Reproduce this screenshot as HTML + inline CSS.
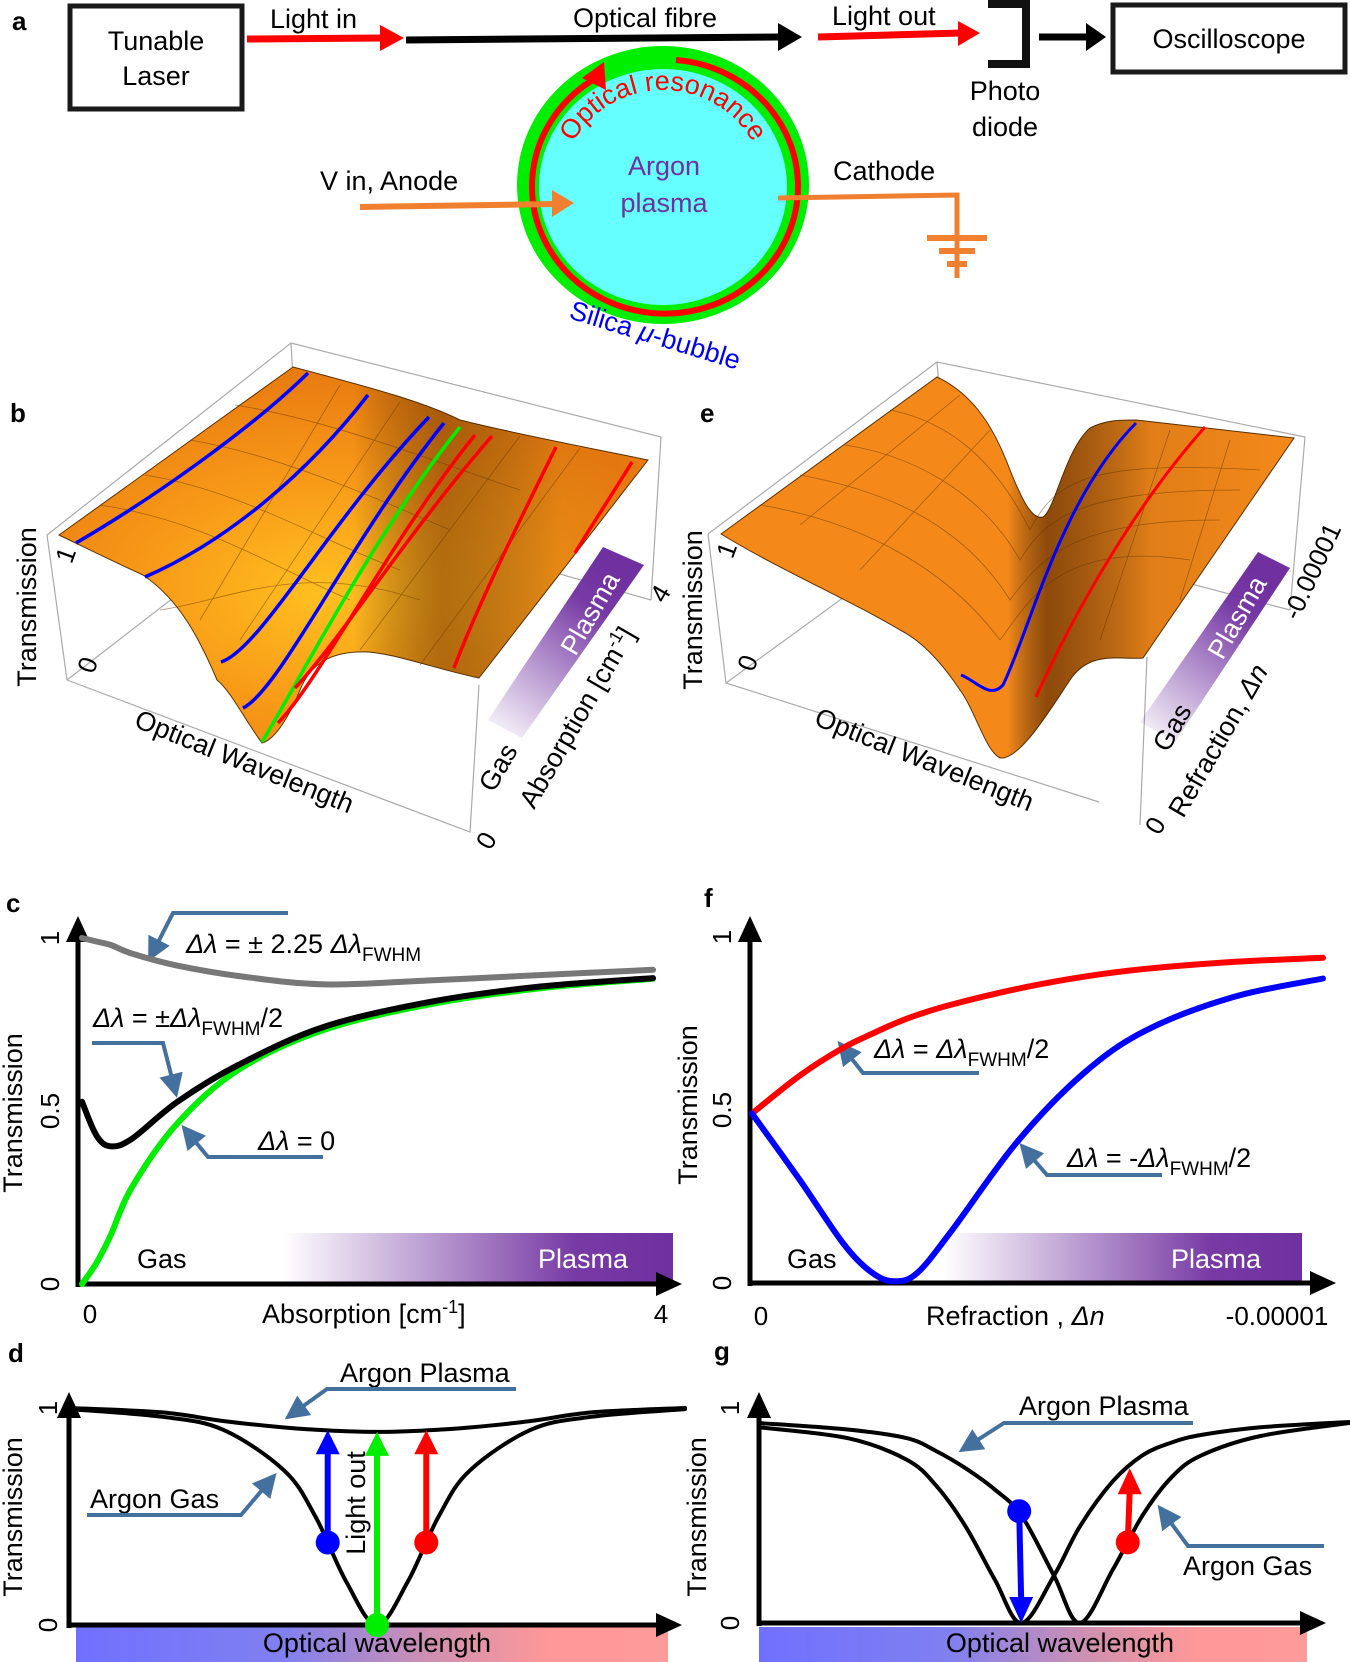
<!DOCTYPE html>
<html><head><meta charset="utf-8">
<style>
html,body{margin:0;padding:0;background:#fff;}
svg{display:block;font-family:"Liberation Sans",Arial,sans-serif;}
</style></head>
<body>
<svg id="fig" width="1350" height="1662" viewBox="0 0 1350 1662" xmlns="http://www.w3.org/2000/svg">
<defs>
  <linearGradient id="purpH" x1="0" x2="1" y1="0" y2="0">
    <stop offset="0" stop-color="#7030a0" stop-opacity="0"/>
    <stop offset="0.75" stop-color="#7030a0" stop-opacity="0.95"/>
    <stop offset="1" stop-color="#7030a0"/>
  </linearGradient>
  <linearGradient id="purpD" x1="0" y1="1" x2="0.6" y2="0">
    <stop offset="0" stop-color="#7030a0" stop-opacity="0"/>
    <stop offset="0.8" stop-color="#7030a0" stop-opacity="0.95"/>
    <stop offset="1" stop-color="#7030a0"/>
  </linearGradient>
  <linearGradient id="wl" x1="0" x2="1" y1="0" y2="0">
    <stop offset="0" stop-color="#7070ff"/>
    <stop offset="0.35" stop-color="#8080f0"/>
    <stop offset="0.6" stop-color="#d090b0"/>
    <stop offset="0.8" stop-color="#ff9898"/>
    <stop offset="1" stop-color="#ff9a9a"/>
  </linearGradient>
  <radialGradient id="orB" cx="0.45" cy="0.6" r="0.6">
    <stop offset="0" stop-color="#ffc020"/>
    <stop offset="0.5" stop-color="#f89a18"/>
    <stop offset="1" stop-color="#e87a10"/>
  </radialGradient>
  <linearGradient id="shadeB" x1="0" x2="1" y1="0" y2="0">
    <stop offset="0" stop-color="#000" stop-opacity="0"/>
    <stop offset="0.5" stop-color="#000" stop-opacity="0"/>
    <stop offset="0.65" stop-color="#5a2800" stop-opacity="0.45"/>
    <stop offset="0.85" stop-color="#000" stop-opacity="0.05"/>
    <stop offset="1" stop-color="#000" stop-opacity="0"/>
  </linearGradient>
  <linearGradient id="shadeE" x1="0" x2="1" y1="0" y2="0">
    <stop offset="0" stop-color="#000" stop-opacity="0"/>
    <stop offset="0.5" stop-color="#000" stop-opacity="0"/>
    <stop offset="0.57" stop-color="#4a2000" stop-opacity="0.6"/>
    <stop offset="0.75" stop-color="#000" stop-opacity="0.08"/>
    <stop offset="1" stop-color="#000" stop-opacity="0"/>
  </linearGradient>
  <marker id="ahBlue" markerWidth="6" markerHeight="6" refX="5" refY="3" orient="auto" markerUnits="strokeWidth"><path d="M0,0 L6,3 L0,6 z" fill="#44709e"/></marker>
</defs>

<!-- ================= PANEL A ================= -->
<g>
  <text x="12" y="30" font-size="26" font-weight="bold">a</text>
  <rect x="70" y="6" width="172" height="103" fill="#fff" stroke="#1a1a1a" stroke-width="5"/>
  <text x="156" y="50" font-size="27" text-anchor="middle">Tunable</text>
  <text x="156" y="85" font-size="27" text-anchor="middle">Laser</text>

  <text x="270" y="28" font-size="27">Light in</text>
  <line x1="247" y1="39" x2="385" y2="38" stroke="#ff0000" stroke-width="7"/>
  <polygon points="380,25 404,38 380,51" fill="#ff0000"/>

  <text x="645" y="27" font-size="27" text-anchor="middle">Optical fibre</text>
  <line x1="406" y1="40" x2="780" y2="37" stroke="#000" stroke-width="7"/>
  <polygon points="778,23 802,37 778,51" fill="#000"/>

  <text x="832" y="25" font-size="27">Light out</text>
  <line x1="818" y1="37" x2="962" y2="33" stroke="#ff0000" stroke-width="7"/>
  <polygon points="958,21 980,33 958,46" fill="#ff0000"/>

  <path d="M988,4 L1026,4 L1026,64 L988,64" fill="none" stroke="#111" stroke-width="8"/>
  <text x="1005" y="100" font-size="27" text-anchor="middle">Photo</text>
  <text x="1005" y="136" font-size="27" text-anchor="middle">diode</text>

  <line x1="1039" y1="37" x2="1088" y2="37" stroke="#000" stroke-width="7"/>
  <polygon points="1086,23 1106,37 1086,51" fill="#000"/>
  <rect x="1113" y="5" width="232" height="67" fill="#fff" stroke="#1a1a1a" stroke-width="5"/>
  <text x="1229" y="48" font-size="27" text-anchor="middle">Oscilloscope</text>

  <ellipse cx="663" cy="185" rx="146" ry="139" fill="#00ee00"/>
  <ellipse cx="663" cy="187" rx="124" ry="118" fill="#66ffff"/>
  <path d="M676,60 A133,127 0 1,1 596,78" fill="none" stroke="#ff0000" stroke-width="6"/>
  <polygon points="582,78 604,62 606,90" fill="#ff0000"/>
  <path id="resArc" d="M561,190 A102,100 0 0,1 765,190" fill="none"/>
  <text font-size="27" fill="#ff0000" text-anchor="middle"><textPath href="#resArc" startOffset="50%">Optical resonance</textPath></text>
  <text x="664" y="175" font-size="27" fill="#7030a0" text-anchor="middle">Argon</text>
  <text x="664" y="212" font-size="27" fill="#7030a0" text-anchor="middle">plasma</text>
  <text x="0" y="0" font-size="27" fill="#0000ee" transform="translate(568,318) rotate(17)"><tspan>Silica </tspan><tspan font-style="italic">μ</tspan><tspan>-bubble</tspan></text>

  <text x="320" y="190" font-size="27">V in, Anode</text>
  <line x1="360" y1="207" x2="555" y2="204" stroke="#f08030" stroke-width="6"/>
  <polygon points="552,190 574,203 552,217" fill="#f08030"/>
  <text x="833" y="180" font-size="27">Cathode</text>
  <path d="M778,198 L957,195 L957,278" fill="none" stroke="#f08030" stroke-width="5"/>
  <g stroke="#f08030" stroke-width="6">
    <line x1="927" y1="238" x2="987" y2="238"/>
    <line x1="939" y1="251" x2="975" y2="251"/>
    <line x1="947" y1="264" x2="967" y2="264"/>
  </g>
</g>

<!-- ================= PANEL B ================= -->
<g>
  <text x="10" y="422" font-size="26" font-weight="bold">b</text>
  <g stroke="#aaa" stroke-width="1.2" fill="none">
    <path d="M47,535 L291,343 L661,437 L651,600"/>
    <path d="M47,535 L67,680 L470,832 L479,685"/>
    <path d="M67,680 L300,500 L651,600"/>
    <path d="M291,343 L300,500"/>
  </g>
  <path d="M59,535 L293,367 C360,385 420,400 460,420 C520,435 600,450 648,460 L479,678 C440,670 400,655 369,652 C330,650 310,665 300,690 C290,715 275,740 262,743 C245,720 230,690 217,680 C200,640 180,600 143,575 C110,560 80,545 59,535 Z" fill="url(#orB)" stroke="#5a3000" stroke-width="1"/>
  <path d="M59,535 L293,367 C360,385 420,400 460,420 C520,435 600,450 648,460 L479,678 C440,670 400,655 369,652 C330,650 310,665 300,690 C290,715 275,740 262,743 C245,720 230,690 217,680 C200,640 180,600 143,575 C110,560 80,545 59,535 Z" fill="url(#shadeB)"/>
  <g stroke="#6a3a00" stroke-width="0.8" fill="none" opacity="0.55">
    <path d="M100,505 C200,520 260,560 350,600"/><path d="M145,475 C240,490 320,540 400,570"/>
    <path d="M190,440 C280,455 380,500 450,530"/><path d="M235,405 C330,420 430,460 520,490"/>
    <path d="M160,610 C230,600 300,560 420,600"/><path d="M340,385 L200,620"/><path d="M400,402 L240,640"/>
    <path d="M520,436 L360,650"/><path d="M580,448 L420,665"/>
  </g>
  <g fill="none" stroke-width="3.5">
    <path stroke="#0000ff" d="M76,543 C150,500 250,430 308,373"/>
    <path stroke="#0000ff" d="M145,577 C230,540 310,470 368,395"/>
    <path stroke="#0000ff" d="M221,662 C260,650 330,520 429,417"/>
    <path stroke="#0000ff" d="M243,708 C280,690 350,540 444,423"/>
    <path stroke="#00ee00" d="M262,742 C300,680 370,540 460,427"/>
    <path stroke="#ff0000" d="M278,723 C320,680 390,540 475,435"/>
    <path stroke="#ff0000" d="M295,688 C340,640 410,530 492,436"/>
    <path stroke="#ff0000" d="M454,668 C480,600 520,520 556,447"/>
    <path stroke="#ff0000" d="M575,553 C595,520 615,490 632,462"/>
  </g>
  <polygon points="603,547 644,565 522,738 488,720" fill="url(#purpD)"/>
  <text font-size="27" fill="#fff" transform="translate(598,618) rotate(-60)" text-anchor="middle">Plasma</text>
  <text font-size="27" transform="translate(506,772) rotate(-60)" text-anchor="middle">Gas</text>
  <text font-size="27" transform="translate(585,722) rotate(-60)" text-anchor="middle">Absorption [cm<tspan font-size="18" dy="-10">-1</tspan><tspan dy="10">]</tspan></text>
  <text font-size="26" transform="translate(668,598) rotate(-60)" text-anchor="middle">4</text>
  <text font-size="26" transform="translate(494,845) rotate(-60)" text-anchor="middle">0</text>
  <text font-size="27" transform="translate(36,607) rotate(-90)" text-anchor="middle">Transmission</text>
  <text font-size="26" transform="translate(74,558) rotate(-70)" text-anchor="middle">1</text>
  <text font-size="26" transform="translate(96,668) rotate(-70)" text-anchor="middle">0</text>
  <text font-size="27" transform="translate(241,770) rotate(22)" text-anchor="middle">Optical Wavelength</text>
</g>

<!-- ================= PANEL E ================= -->
<g>
  <text x="700" y="422" font-size="26" font-weight="bold">e</text>
  <g stroke="#aaa" stroke-width="1.2" fill="none">
    <path d="M708,534 L937,362 L1305,437 L1290,610"/>
    <path d="M708,534 L726,683 L1099,802"/>
    <path d="M726,683 L950,520 L1290,610"/>
    <path d="M937,362 L950,520"/>
    <path d="M1147,657 L1140,825"/>
  </g>
  <path d="M721,534 L937,377 C975,395 995,430 1010,470 C1022,500 1032,520 1043,517 C1055,510 1065,450 1090,428 C1105,420 1120,420 1136,420 L1294,438 L1143,658 C1120,660 1090,650 1070,680 C1050,710 1020,760 1000,758 C985,750 975,710 960,690 C940,660 920,640 900,630 C850,600 780,570 721,534 Z" fill="#f4891a" stroke="#5a3000" stroke-width="1"/>
  <path d="M721,534 L937,377 C975,395 995,430 1010,470 C1022,500 1032,520 1043,517 C1055,510 1065,450 1090,428 C1105,420 1120,420 1136,420 L1294,438 L1143,658 C1120,660 1090,650 1070,680 C1050,710 1020,760 1000,758 C985,750 975,710 960,690 C940,660 920,640 900,630 C850,600 780,570 721,534 Z" fill="url(#shadeE)"/>
  <g stroke="#5a3000" stroke-width="0.8" fill="none" opacity="0.5">
    <path d="M760,505 C850,520 940,560 1000,640 C1030,600 1060,540 1190,560"/>
    <path d="M800,475 C880,490 960,520 1010,600 C1040,560 1070,520 1220,520"/>
    <path d="M845,445 C910,455 980,490 1020,560 C1045,520 1075,490 1240,490"/>
    <path d="M890,410 C940,420 990,450 1030,530 C1055,480 1090,460 1260,470"/>
    <path d="M800,525 L960,395"/><path d="M860,570 L990,430"/><path d="M1180,600 L1230,440"/><path d="M1100,640 L1170,430"/>
  </g>
  <path d="M961,675 C975,680 990,700 1003,685 C1030,630 1060,500 1136,423" fill="none" stroke="#0000ff" stroke-width="3"/>
  <path d="M1036,697 C1080,600 1140,500 1205,427" fill="none" stroke="#ff0000" stroke-width="3"/>
  <polygon points="1258,552 1290,568 1175,742 1140,722" fill="url(#purpD)"/>
  <text font-size="27" fill="#fff" transform="translate(1245,622) rotate(-60)" text-anchor="middle">Plasma</text>
  <text font-size="27" transform="translate(1180,732) rotate(-60)" text-anchor="middle">Gas</text>
  <text font-size="27" transform="translate(1226,745) rotate(-60)" text-anchor="middle">Refraction, <tspan font-style="italic">Δn</tspan></text>
  <text font-size="26" transform="translate(1320,575) rotate(-65)" text-anchor="middle">-0.00001</text>
  <text font-size="26" transform="translate(1163,830) rotate(-60)" text-anchor="middle">0</text>
  <text font-size="27" transform="translate(702,610) rotate(-90)" text-anchor="middle">Transmission</text>
  <text font-size="26" transform="translate(735,553) rotate(-70)" text-anchor="middle">1</text>
  <text font-size="26" transform="translate(756,666) rotate(-70)" text-anchor="middle">0</text>
  <text font-size="27" transform="translate(921,768) rotate(22)" text-anchor="middle">Optical Wavelength</text>
</g>

<!-- ================= PANEL C ================= -->
<g id="panelC">
  <text x="6" y="912" font-size="26" font-weight="bold">c</text>
  <rect x="282" y="1233" width="391" height="51" fill="url(#purpH)"/>
  <text x="137" y="1268" font-size="27">Gas</text>
  <text x="538" y="1268" font-size="27" fill="#fff">Plasma</text>
  <text font-size="27" transform="translate(22,1113) rotate(-90)" text-anchor="middle">Transmission</text>
  <text x="262" y="1323" font-size="27">Absorption [cm<tspan font-size="18" dy="-10">-1</tspan><tspan dy="10">]</tspan></text>
  <text x="186" y="953" font-size="27"><tspan font-style="italic">Δλ</tspan> = ± 2.25 <tspan font-style="italic">Δλ</tspan><tspan font-size="19" dy="8">FWHM</tspan></text>
  <text x="93" y="1027" font-size="27"><tspan font-style="italic">Δλ</tspan> = ±<tspan font-style="italic">Δλ</tspan><tspan font-size="19" dy="8">FWHM</tspan><tspan dy="-8">/2</tspan></text>
  <text x="258" y="1150" font-size="27"><tspan font-style="italic">Δλ</tspan> = 0</text>
  <g fill="none" stroke="#44709e" stroke-width="4">
    <polyline points="288,913 173,913 150,958" marker-end="url(#ahBlue)"/>
    <polyline points="92,1043 163,1043 176,1094" marker-end="url(#ahBlue)"/>
    <polyline points="323,1157 208,1157 184,1128" marker-end="url(#ahBlue)"/>
  </g>
</g>

<!-- ================= PANEL F ================= -->
<g id="panelF">
  <text x="704" y="907" font-size="26" font-weight="bold">f</text>
  <rect x="943" y="1233" width="359" height="50" fill="url(#purpH)"/>
  <text x="787" y="1268" font-size="27">Gas</text>
  <text x="1171" y="1268" font-size="27" fill="#fff">Plasma</text>
  <text font-size="27" transform="translate(697,1105) rotate(-90)" text-anchor="middle">Transmission</text>
  <text x="926" y="1325" font-size="27">Refraction , <tspan font-style="italic">Δn</tspan></text>
  <text x="874" y="1058" font-size="27"><tspan font-style="italic">Δλ</tspan> = <tspan font-style="italic">Δλ</tspan><tspan font-size="19" dy="8">FWHM</tspan><tspan dy="-8">/2</tspan></text>
  <text x="1067" y="1167" font-size="27"><tspan font-style="italic">Δλ</tspan> = -<tspan font-style="italic">Δλ</tspan><tspan font-size="19" dy="8">FWHM</tspan><tspan dy="-8">/2</tspan></text>
  <g fill="none" stroke="#44709e" stroke-width="4">
    <polyline points="979,1073 863,1073 840,1044" marker-end="url(#ahBlue)"/>
    <polyline points="1162,1175 1047,1175 1022,1146" marker-end="url(#ahBlue)"/>
  </g>
</g>

<!-- ================= PANEL D ================= -->
<g id="panelD">
  <text x="8" y="1362" font-size="26" font-weight="bold">d</text>
  <rect x="76" y="1627" width="592" height="35" fill="url(#wl)"/>
  <text x="377" y="1652" font-size="27" text-anchor="middle">Optical wavelength</text>
  <text font-size="27" transform="translate(22,1517) rotate(-90)" text-anchor="middle">Transmission</text>
  <text x="340" y="1382" font-size="27">Argon Plasma</text>
  <text x="90" y="1508" font-size="27">Argon Gas</text>
  <g fill="none" stroke="#44709e" stroke-width="4">
    <polyline points="516,1389 327,1389 288,1417" marker-end="url(#ahBlue)"/>
    <polyline points="87,1515 241,1515 274,1476" marker-end="url(#ahBlue)"/>
  </g>
</g>

<!-- ================= PANEL G ================= -->
<g id="panelG">
  <text x="714" y="1360" font-size="26" font-weight="bold">g</text>
  <rect x="759" y="1627" width="548" height="35" fill="url(#wl)"/>
  <text x="1060" y="1652" font-size="27" text-anchor="middle">Optical wavelength</text>
  <text font-size="27" transform="translate(706,1517) rotate(-90)" text-anchor="middle">Transmission</text>
  <text x="1019" y="1415" font-size="27">Argon Plasma</text>
  <text x="1183" y="1575" font-size="27">Argon Gas</text>
  <g fill="none" stroke="#44709e" stroke-width="4">
    <polyline points="1193,1423 1004,1423 962,1450" marker-end="url(#ahBlue)"/>
    <polyline points="1324,1546 1188,1546 1160,1508" marker-end="url(#ahBlue)"/>
  </g>
</g>
</svg>

<script>
// ---------- Panel c data ----------
const absorption = [0, 0.1, 0.2, 0.35, 0.67, 1.1, 1.7, 2.46, 3.22, 4];
const transGray = [1.0, 0.99, 0.98, 0.955, 0.92, 0.89, 0.866, 0.878, 0.893, 0.908];
const transBlack = [0.527, 0.43, 0.398, 0.42, 0.527, 0.634, 0.744, 0.817, 0.86, 0.884];
const transGreen = [0, 0.06, 0.14, 0.28, 0.465, 0.62, 0.735, 0.81, 0.855, 0.882];
const cTicksX = ["0", "4"];
const cTicksY = ["0", "0.5", "1"];
// ---------- Panel f data ----------
const refraction = [0, 0.084, 0.16, 0.21, 0.25, 0.29, 0.35, 0.464, 0.58, 0.69, 0.844, 1];
const transRed = [0.49, 0.6, 0.68, 0.72, 0.75, 0.775, 0.805, 0.85, 0.885, 0.908, 0.928, 0.94];
const transBlue = [0.49, 0.297, 0.114, 0.03, 0.005, 0.03, 0.152, 0.407, 0.605, 0.73, 0.827, 0.88];
const fTicksX = ["0", "-0.00001"];
const fTicksY = ["0", "0.5", "1"];
// ---------- Panel d data ----------
const wlD = [-1, -0.7, -0.5, -0.3, -0.2, -0.1, 0, 0.1, 0.2, 0.3, 0.5, 0.7, 1];
const dGas = [0.995, 0.96, 0.9, 0.71, 0.5, 0.2, 0, 0.2, 0.5, 0.71, 0.9, 0.96, 0.995];
const dPlasma = [1, 0.98, 0.94, 0.91, 0.9, 0.893, 0.89, 0.893, 0.9, 0.91, 0.94, 0.98, 1];
const dProbeWl = [-0.16, 0, 0.16];
const dTicksY = ["0", "1"];
// ---------- Panel g data ----------
const wlG = [-1, -0.7, -0.5, -0.4, -0.3, -0.2, -0.11, 0, 0.088, 0.2, 0.3, 0.4, 0.5, 0.7, 1];
const gLeftDip = [0.91, 0.86, 0.76, 0.64, 0.45, 0.2, 0, 0.22, 0.45, 0.66, 0.78, 0.84, 0.875, 0.91, 0.935];
const gRightDip = [0.93, 0.9, 0.86, 0.8, 0.72, 0.62, 0.5, 0.22, 0, 0.25, 0.5, 0.68, 0.78, 0.87, 0.93];
const gTicksY = ["0", "1"];

const NS = "http://www.w3.org/2000/svg";
function mk(parent, tag, attrs) {
  const e = document.createElementNS(NS, tag);
  for (const k in attrs) e.setAttribute(k, attrs[k]);
  parent.appendChild(e);
  return e;
}
function smooth(pts) {
  let d = "M" + pts[0][0].toFixed(1) + "," + pts[0][1].toFixed(1);
  for (let i = 0; i < pts.length - 1; i++) {
    const p0 = pts[i - 1] || pts[i], p1 = pts[i], p2 = pts[i + 1], p3 = pts[i + 2] || pts[i + 1];
    const c1x = p1[0] + (p2[0] - p0[0]) / 6, c1y = p1[1] + (p2[1] - p0[1]) / 6;
    const c2x = p2[0] - (p3[0] - p1[0]) / 6, c2y = p2[1] - (p3[1] - p1[1]) / 6;
    d += "C" + c1x.toFixed(1) + "," + c1y.toFixed(1) + " " + c2x.toFixed(1) + "," + c2y.toFixed(1) + " " + p2[0].toFixed(1) + "," + p2[1].toFixed(1);
  }
  return d;
}
function linScale(d0, d1, r0, r1) { return v => r0 + (v - d0) / (d1 - d0) * (r1 - r0); }
function axes(g, ox, oy, xEnd, yTop) {
  const ya = mk(g, "line", {x1: ox, y1: oy + 3, x2: ox, y2: yTop + 20, stroke: "#000", "stroke-width": 5});
  
  
  const yh = mk(g, "polygon", {points: `${ox - 12},${yTop + 26} ${ox},${yTop} ${ox + 12},${yTop + 26}`, fill: "#000"});
  
  
  const xa = mk(g, "line", {x1: ox - 2, y1: oy, x2: xEnd - 20, y2: oy, stroke: "#000", "stroke-width": 5});
  
  
  const xh = mk(g, "polygon", {points: `${xEnd - 26},${oy - 12} ${xEnd},${oy} ${xEnd - 26},${oy + 12}`, fill: "#000"});
  
  
}
function yTicks(g, labels, values, yS, tx) {
  labels.forEach((lab, i) => {
    const t = mk(g, "text", {"font-size": 26, "text-anchor": "middle", transform: `translate(${tx},${yS(values[i])}) rotate(-90)`, dy: "0.35em"});
    t.textContent = lab;
    
    
  });
}
function series(g, xs, ys, xS, yS, color, w, name) {
  const p = mk(g, "path", {d: smooth(xs.map((x, i) => [xS(x), yS(ys[i])])), fill: "none", stroke: color, "stroke-width": w, "stroke-linecap": "round"});
  
  
  return p;
}

// ---- Panel C ----
(function () {
  const g = document.getElementById("panelC");
  const xS = linScale(0, 4, 82, 653), yS = linScale(0, 1, 1284, 938);
  axes(g, 78, 1284, 682, 916);
  yTicks(g, cTicksY, [0, 0.5, 1], yS, 50);
  [0, 4].forEach((v, i) => {
    const t = mk(g, "text", {x: xS(v) + 8, y: 1323, "font-size": 26, "text-anchor": "middle"});
    t.textContent = cTicksX[i];
    
    
  });
  series(g, absorption, transGreen, xS, yS, "#00ee00", 6, "series-delta-zero");
  series(g, absorption, transBlack, xS, yS, "#000", 6, "series-half-fwhm");
  series(g, absorption, transGray, xS, yS, "#777", 6, "series-225-fwhm");
})();

// ---- Panel F ----
(function () {
  const g = document.getElementById("panelF");
  const xS = linScale(0, 1, 752, 1323), yS = linScale(0, 1, 1283, 937);
  axes(g, 750, 1283, 1336, 916);
  yTicks(g, fTicksY, [0, 0.5, 1], yS, 722);
  const t0 = mk(g, "text", {x: 761, y: 1325, "font-size": 26, "text-anchor": "middle"});
  t0.textContent = fTicksX[0];
  
  
  const t1 = mk(g, "text", {x: 1277, y: 1325, "font-size": 26, "text-anchor": "middle"});
  t1.textContent = fTicksX[1];
  
  
  series(g, refraction, transRed, xS, yS, "#ff0000", 6, "series-plus-half-fwhm");
  series(g, refraction, transBlue, xS, yS, "#0000ff", 6, "series-minus-half-fwhm");
})();

// ---- Panel D ----
(function () {
  const g = document.getElementById("panelD");
  const xS = linScale(-1, 1, 69, 685), yS = linScale(0, 1, 1625, 1408);
  axes(g, 69, 1625, 682, 1392);
  yTicks(g, dTicksY, [0, 1], yS, 48);
  series(g, wlD, dGas, xS, yS, "#000", 4, "argon-gas-curve-d");
  series(g, wlD, dPlasma, xS, yS, "#000", 4, "argon-plasma-curve-d");
  const cols = ["#0000ff", "#00ee00", "#ff0000"];
  function interp(xs, ys, x) {
    for (let i = 0; i < xs.length - 1; i++) if (x >= xs[i] && x <= xs[i + 1]) return ys[i] + (ys[i + 1] - ys[i]) * (x - xs[i]) / (xs[i + 1] - xs[i]);
    return ys[ys.length - 1];
  }
  dProbeWl.forEach((w, i) => {
    const x = xS(w), y0 = yS(interp(wlD, dGas, w)), y1 = yS(interp(wlD, dPlasma, w));
    const c = mk(g, "circle", {cx: x, cy: y0, r: 12, fill: cols[i]});
    
    
    const l = mk(g, "line", {x1: x, y1: y0, x2: x, y2: y1 + 20, stroke: cols[i], "stroke-width": 6});
    
    
    const h = mk(g, "polygon", {points: `${x - 12},${y1 + 24} ${x},${y1} ${x + 12},${y1 + 24}`, fill: cols[i]});
    
    
  });
  const lt = mk(g, "text", {"font-size": 27, "text-anchor": "middle", transform: "translate(365,1503) rotate(-90)"});
  lt.textContent = "Light out";
  
  
})();

// ---- Panel G ----
(function () {
  const g = document.getElementById("panelG");
  const xS = linScale(-1, 1, 759, 1349), yS = linScale(0, 1, 1623, 1408);
  axes(g, 759, 1623, 1326, 1392);
  yTicks(g, gTicksY, [0, 1], yS, 730);
  const cp = mk(g, "clipPath", {id: "clipG"});
  mk(cp, "rect", {x: 759, y: 1380, width: 591, height: 250});
  const inner = mk(g, "g", {"clip-path": "url(#clipG)"});
  series(inner, wlG, gLeftDip, xS, yS, "#000", 4, "argon-plasma-curve-g");
  series(inner, wlG, gRightDip, xS, yS, "#000", 4, "argon-gas-curve-g");
  const bx = xS(-0.118), by0 = yS(0.52), by1 = yS(0);
  const bc = mk(g, "circle", {cx: bx, cy: by0, r: 12, fill: "#0000ff"});
  
  
  const bl = mk(g, "line", {x1: bx, y1: by0, x2: bx + 2, y2: by1 - 22, stroke: "#0000ff", "stroke-width": 6});
  
  
  const bh = mk(g, "polygon", {points: `${bx - 10},${by1 - 26} ${bx + 2},${by1} ${bx + 14},${by1 - 26}`, fill: "#0000ff"});
  
  
  const rx = xS(0.25), ry0 = yS(0.375), ry1 = yS(0.72);
  const rc = mk(g, "circle", {cx: rx, cy: ry0, r: 12, fill: "#ff0000"});
  
  
  const rl = mk(g, "line", {x1: rx, y1: ry0, x2: rx + 2, y2: ry1 + 22, stroke: "#ff0000", "stroke-width": 6});
  
  
  const rh = mk(g, "polygon", {points: `${rx - 10},${ry1 + 26} ${rx + 2},${ry1} ${rx + 14},${ry1 + 26}`, fill: "#ff0000"});
  
  
})();
</script>
</body></html>
